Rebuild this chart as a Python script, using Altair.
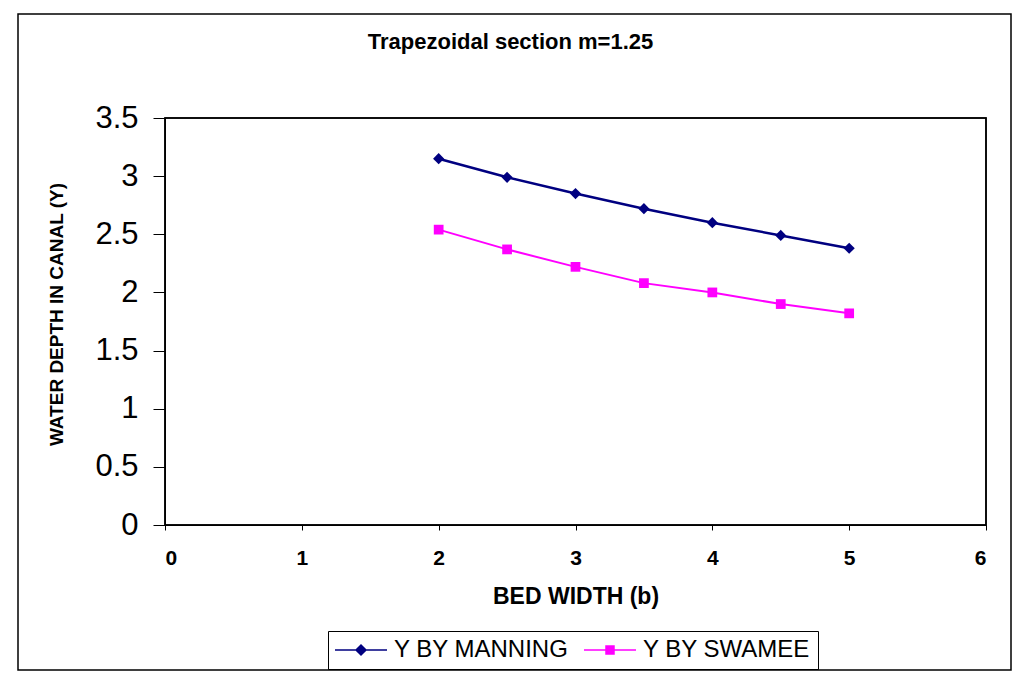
import altair as alt
import pandas as pd

# ---- data ----
bed_width = [2, 2.5, 3, 3.5, 4, 4.5, 5]
y_manning = [3.15, 2.99, 2.85, 2.72, 2.60, 2.49, 2.38]
y_swamee = [2.54, 2.37, 2.22, 2.08, 2.00, 1.90, 1.82]
series_names = ["Y BY MANNING", "Y BY SWAMEE"]
series_colors = ["#000080", "#FF00FF"]
x_ticks = [0, 1, 2, 3, 4, 5, 6]
y_ticks = [0, 0.5, 1, 1.5, 2, 2.5, 3, 3.5]

df = pd.DataFrame({
    "b": bed_width + bed_width,
    "Y": y_manning + y_swamee,
    "series": [series_names[0]] * len(bed_width) + [series_names[1]] * len(bed_width),
})

FONT = "Liberation Sans"

x_enc = alt.X(
    "b:Q",
    scale=alt.Scale(domain=[0, 6], nice=False, zero=False),
    axis=alt.Axis(
        values=x_ticks, format="~g", title="BED WIDTH (b)", grid=False,
        labelFont=FONT, labelFontSize=21, labelFontWeight="bold", labelColor="black",
        labelPadding=17, tickSize=5, tickColor="black", domainColor="black",
        titleFont=FONT, titleFontSize=23, titleFontWeight="bold", titleColor="black",
        titleY=60,
    ),
)
y_enc = alt.Y(
    "Y:Q",
    scale=alt.Scale(domain=[0, 3.5], nice=False, zero=False),
    axis=alt.Axis(
        values=y_ticks, format="~g", title="WATER DEPTH IN CANAL (Y)", grid=False,
        labelFont=FONT, labelFontSize=31, labelColor="black",
        labelPadding=15, tickSize=12, tickColor="black", domainColor="black",
        titleFont=FONT, titleFontSize=19, titleFontWeight="bold", titleColor="black",
        titleX=-99, titleY=196,
    ),
)

base = alt.Chart(df)

line_m = base.transform_filter(alt.datum.series == series_names[0]).mark_line(
    color=series_colors[0], strokeWidth=2.5
).encode(x=x_enc, y=y_enc)
line_s = base.transform_filter(alt.datum.series == series_names[1]).mark_line(
    color=series_colors[1], strokeWidth=2
).encode(x=x_enc, y=y_enc)

pts_m = base.transform_filter(alt.datum.series == series_names[0]).mark_point(
    filled=True, opacity=1, shape="diamond", size=125, color=series_colors[0]
).encode(x=x_enc, y=y_enc)
pts_s = base.transform_filter(alt.datum.series == series_names[1]).mark_point(
    filled=True, opacity=1, shape="square", size=95, color=series_colors[1]
).encode(x=x_enc, y=y_enc)

# legend carrier: its own symbols sit outside the clipped view, only the legend shows
leg_paths = [
    "M-2.4,0L8,0M1.8,0L2.8,-1L3.8,0L2.8,1Z",
    "M-2.4,0L8,0M2,-0.8L3.6,-0.8L3.6,0.8L2,0.8Z",
]
leg = alt.Legend(title=None, orient="none", legendX=163, legendY=513, direction="horizontal")
legend_layer = base.mark_point(filled=True, opacity=1, clip=True, size=100, strokeWidth=1.5).encode(
    x=alt.value(-2000), y=alt.value(-2000),
    shape=alt.Shape("series:N", scale=alt.Scale(domain=series_names, range=leg_paths), legend=leg),
    fill=alt.Fill("series:N", scale=alt.Scale(domain=series_names, range=series_colors), legend=leg),
    stroke=alt.Stroke("series:N", scale=alt.Scale(domain=series_names, range=series_colors), legend=leg),
)

# outer chart frame and the plot-area box
frame = alt.Chart(pd.DataFrame({"f": [0]})).mark_rect(
    fillOpacity=0, stroke="black", strokeWidth=1.5
).encode(
    x=alt.value(-147), x2=alt.value(846), y=alt.value(-104), y2=alt.value(552)
)
plot_box = alt.Chart(pd.DataFrame({"f": [0]})).mark_rect(
    fillOpacity=0, stroke="black", strokeWidth=1.5
).encode(
    x=alt.value(0), x2=alt.value(821), y=alt.value(0), y2=alt.value(407)
)

chart = alt.layer(frame, plot_box, line_m, line_s, pts_m, pts_s, legend_layer).properties(
    width=821, height=407,
    title=alt.TitleParams(
        "Trapezoidal section m=1.25", font=FONT, fontSize=22, fontWeight="bold",
        color="black", anchor="middle", dx=-65, offset=-41,
    ),
    autosize=alt.AutoSizeParams(type="none"),
    padding={"left": 157, "top": 110, "right": 30, "bottom": 146},
).configure(
    background="white"
).configure_view(
    stroke="black", strokeWidth=1.5
).configure_legend(
    labelFont=FONT, labelFontSize=24, labelColor="black", labelOffset=35, labelLimit=400,
    symbolSize=100, symbolStrokeWidth=1.5, symbolOpacity=1,
    padding=7, strokeColor="black", columnPadding=12,
)

chart.save("out.html", embed_options={"renderer": "svg", "actions": False})
